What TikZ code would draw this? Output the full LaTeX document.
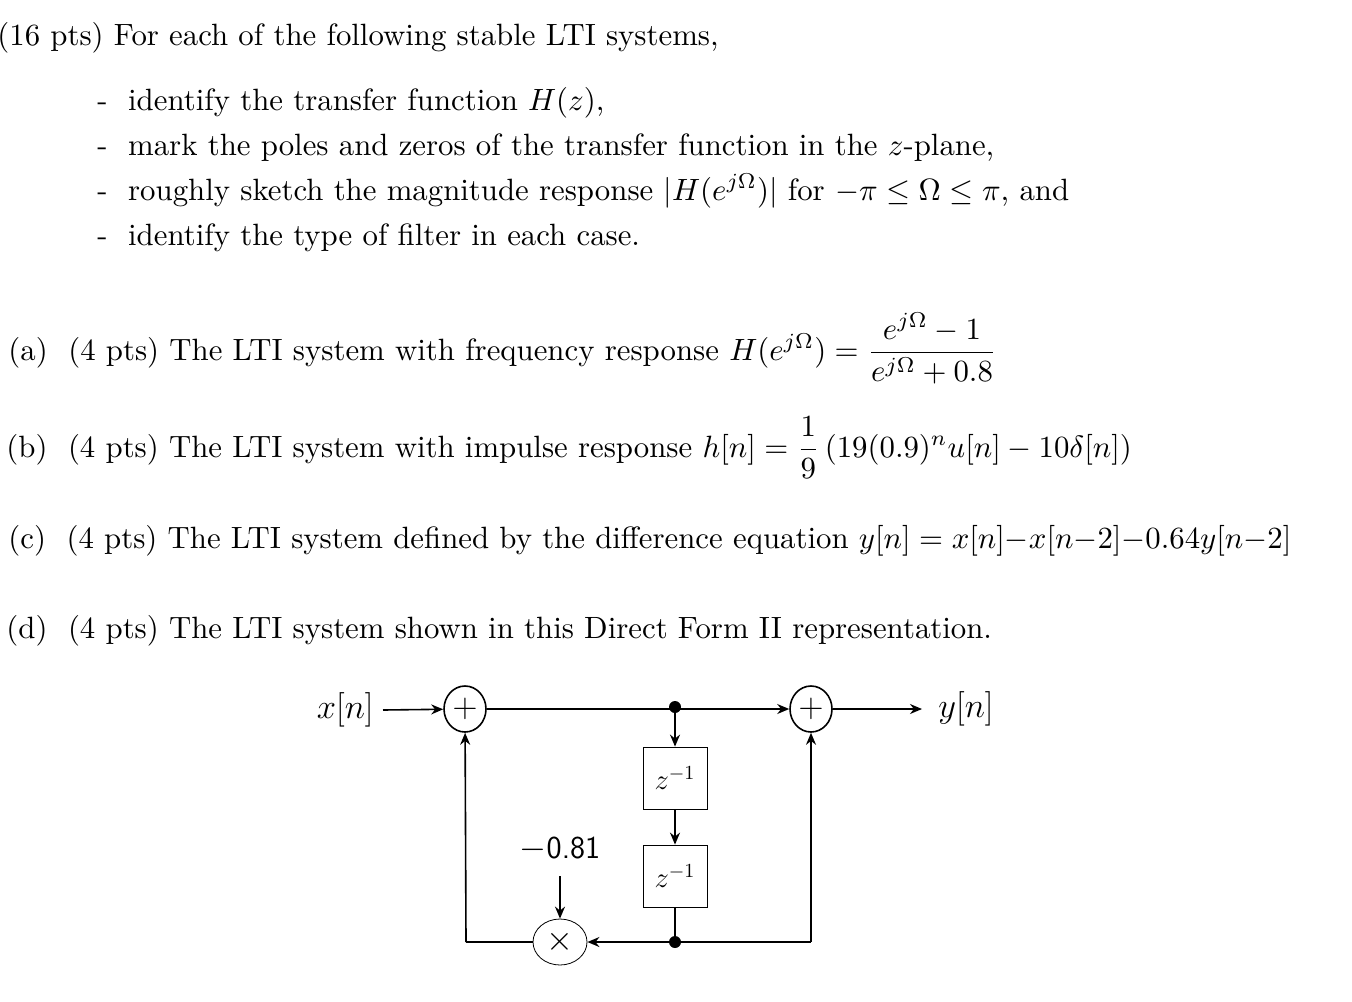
\documentclass[tikz,border=0pt]{standalone}
\usepackage{amsmath,amssymb,graphicx}
\usetikzlibrary{shapes.geometric,arrows.meta}
\newcommand{\bigtxt}[1]{\scalebox{1.54}{\normalsize #1}}
\begin{document}
\begin{tikzpicture}[x=0.5pt,y=-0.5pt,
  txt/.style={anchor=base west,inner sep=0pt},
  sumnode/.style={draw,ellipse,minimum width=21pt,minimum height=23pt,inner sep=0pt,fill=white,thick},
  multnode/.style={draw,ellipse,minimum width=27pt,minimum height=23pt,inner sep=0pt,fill=white},
  delay/.style={draw,minimum width=32pt,minimum height=31pt,inner sep=0pt,fill=white,font=\Large},
  dotn/.style={circle,fill,inner sep=0pt,minimum size=6pt},
  arr/.style={thick,-{Stealth[length=6pt,width=5pt]}},
  ln/.style={thick}]
\useasboundingbox (0,0) rectangle (1352,1001);
\node[txt] (t0) at (-3,45) {\bigtxt{(16 pts) For each of the following stable LTI systems,}};
\node[txt] (t1) at (97,110) {\bigtxt{- \ identify the transfer function $H(z)$,}};
\node[txt] (t2) at (97,155) {\bigtxt{- \ mark the poles and zeros of the transfer function in the $z$-plane,}};
\node[txt] (t3) at (97,200) {\bigtxt{- \ roughly sketch the magnitude response $|H(e^{j\Omega})|$ for $-\pi\le\Omega\le\pi$, and}};
\node[txt] (t4) at (97,245) {\bigtxt{- \ identify the type of filter in each case.}};
\node[txt] (ta) at (8,360) {\bigtxt{(a)\ \ (4 pts) The LTI system with frequency response $H(e^{j\Omega})=\dfrac{e^{j\Omega}-1}{e^{j\Omega}+0.8}$}};
\node[txt] (tb) at (6,457) {\bigtxt{(b)\ \ (4 pts) The LTI system with impulse response $h[n]=\dfrac{1}{9}\left(19(0.9)^n u[n]-10\delta[n]\right)$}};
\node[txt] (tc) at (8,548) {\bigtxt{(c)\ \ (4 pts) The LTI system defined by the difference equation $y[n]=x[n]{-}x[n{-}2]{-}0.64y[n{-}2]$}};
\node[txt] (td) at (6,638) {\bigtxt{(d)\ \ (4 pts) The LTI system shown in this Direct Form II representation.}};
% diagram
\node[sumnode] (s1) at (465,709) {\LARGE $+$};
\node[sumnode] (s2) at (811,709) {\LARGE $+$};
\node[dotn] (d1) at (675,707) {};
\node[dotn] (d2) at (675,942) {};
\node[delay] (b1) at (675,778) {$z^{-1}$};
\node[delay] (b2) at (675,876) {$z^{-1}$};
\node[multnode] (m) at (560,942) {\LARGE $\times$};
\node[anchor=east,inner sep=0pt,font=\fontsize{16}{18}\selectfont] (x) at (374,710) {$x[n]$};
\node[anchor=west,inner sep=0pt,font=\fontsize{16}{18}\selectfont] (y) at (938,709) {$y[n]$};
\node[inner sep=0pt,font=\fontsize{16}{18}\selectfont\sffamily] (g) at (560,849) {$-$0.81};
\coordinate (xs) at (383,710);
\coordinate (ye) at (922,709);
\coordinate (gs) at (560,876);
\coordinate (bl) at (466,942);
\coordinate (br) at (811,942);
\draw[arr] (xs) -- (s1);
\draw[arr] (s1) -- (s2);
\draw[arr] (s2) -- (ye);
\draw[arr] (d1) -- (b1);
\draw[arr] (b1) -- (b2);
\draw[ln] (b2) -- (d2);
\draw[arr] (d2) -- (m);
\draw[ln] (d2) -- (br);
\draw[arr] (br) -- (s2);
\draw[ln] (m) -- (bl);
\draw[arr] (bl) -- (s1);
\draw[arr] (gs) -- (m);
\end{tikzpicture}
\end{document}
